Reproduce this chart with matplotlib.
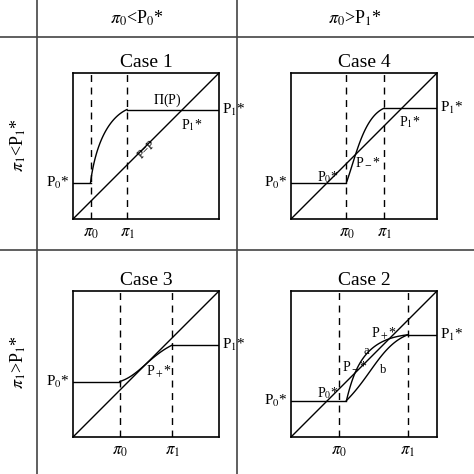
import numpy as np
import matplotlib.pyplot as plt
from matplotlib.lines import Line2D

plt.rcParams['font.family'] = 'Liberation Serif'
plt.rcParams['mathtext.fontset'] = 'stix'

W = 474.0
# panel settings: title, pi0, pi1, P0*, P1*, curve control points (bezier)
cases = ["Case 1", "Case 4", "Case 3", "Case 2"]
pi0s = [0.12, 0.38, 0.32, 0.33]
pi1s = [0.37, 0.64, 0.68, 0.80]
p0s = [0.25, 0.25, 0.38, 0.25]
p1s = [0.75, 0.76, 0.63, 0.70]
curve_starts = [0.12, 0.38, 0.32, 0.38]
ctrl_a = [[(0.12, 0.25), (0.16, 0.55), (0.26, 0.70), (0.37, 0.75)],
          [(0.38, 0.25), (0.45, 0.45), (0.50, 0.70), (0.64, 0.76)],
          [(0.32, 0.38), (0.45, 0.42), (0.52, 0.55), (0.68, 0.63)],
          [(0.38, 0.25), (0.44, 0.50), (0.52, 0.67), (0.80, 0.70)]]
ctrl_b = [None, None, None,
          [(0.38, 0.25), (0.55, 0.42), (0.62, 0.63), (0.80, 0.70)]]
# panel left/top in pixels
boxes = [(73, 73), (291, 73), (73, 291), (291, 291)]
SIZE = 146


def bez(pts, n=100):
    p = np.array(pts)
    t = np.linspace(0, 1, n)[:, None]
    return ((1 - t) ** 3 * p[0] + 3 * (1 - t) ** 2 * t * p[1]
            + 3 * (1 - t) * t ** 2 * p[2] + t ** 3 * p[3])


fig = plt.figure(figsize=(4.74, 4.74), dpi=100)
g = '#444444'
for x0, y0, x1, y1 in [(37, 0, 37, 474), (237, 0, 237, 474), (0, 37, 474, 37), (0, 250, 474, 250)]:
    fig.add_artist(Line2D([x0 / W, x1 / W], [1 - y0 / W, 1 - y1 / W], color=g, lw=1.2))

fig.text(137 / W, 1 - 18 / W, r'$\pi_0$<P$_0$*', ha='center', va='center', fontsize=13)
fig.text(355 / W, 1 - 18 / W, r'$\pi_0$>P$_1$*', ha='center', va='center', fontsize=13)
fig.text(18 / W, 1 - 145 / W, r'$\pi_1$<P$_1$*', ha='center', va='center', fontsize=13, rotation=90)
fig.text(18 / W, 1 - 362 / W, r'$\pi_1$>P$_1$*', ha='center', va='center', fontsize=13, rotation=90)

for i, (l, t) in enumerate(boxes):
    ax = fig.add_axes([l / W, 1 - (t + SIZE) / W, SIZE / W, SIZE / W])
    ax.set_xlim(0, 1)
    ax.set_ylim(0, 1)
    ax.set_xticks([])
    ax.set_yticks([])
    for s in ax.spines.values():
        s.set_linewidth(1.2)
    ax.set_title(cases[i], fontsize=14, pad=4)
    ax.plot([0, 1], [0, 1], color='k', lw=1)
    for v in (pi0s[i], pi1s[i]):
        ax.axvline(v, color='k', lw=1, ls=(0, (5, 4)))
    ax.plot([0, curve_starts[i]], [p0s[i], p0s[i]], color='k', lw=1)
    ax.plot([pi1s[i], 1], [p1s[i], p1s[i]], color='k', lw=1)
    c = bez(ctrl_a[i])
    ax.plot(c[:, 0], c[:, 1], color='k', lw=1)
    if ctrl_b[i] is not None:
        c = bez(ctrl_b[i])
        ax.plot(c[:, 0], c[:, 1], color='k', lw=1)
    ax.text(pi0s[i], -0.04, r'$\pi_0$', ha='center', va='top', fontsize=12)
    ax.text(pi1s[i], -0.04, r'$\pi_1$', ha='center', va='top', fontsize=12)
    ax.text(-0.02, p0s[i], 'P$_0$*', ha='right', va='center', fontsize=11)
    ax.text(1.02, p1s[i], 'P$_1$*', ha='left', va='center', fontsize=11)

axs = fig.axes
a1, a4, a3, a2 = axs
a1.text(0.55, 0.79, r'$\Pi$(P)', fontsize=10)
a1.text(0.74, 0.70, 'P$_1$*', fontsize=10, va='top')
a1.text(0.43, 0.42, 'P=P', fontsize=9, rotation=45)
a4.text(0.74, 0.72, 'P$_1$*', fontsize=10, va='top')
a4.text(0.44, 0.36, 'P$_-$*', fontsize=10)
a4.text(0.18, 0.26, 'P$_0$*', fontsize=10)
a3.text(0.50, 0.42, 'P$_+$*', fontsize=10)
a2.text(0.18, 0.27, 'P$_0$*', fontsize=10)
a2.text(0.35, 0.46, 'P$_-$*', fontsize=10)
a2.text(0.55, 0.68, 'P$_+$*', fontsize=10)
a2.text(0.50, 0.57, 'a', fontsize=9)
a2.text(0.61, 0.44, 'b', fontsize=9)

fig.savefig('out.png', dpi=100)
